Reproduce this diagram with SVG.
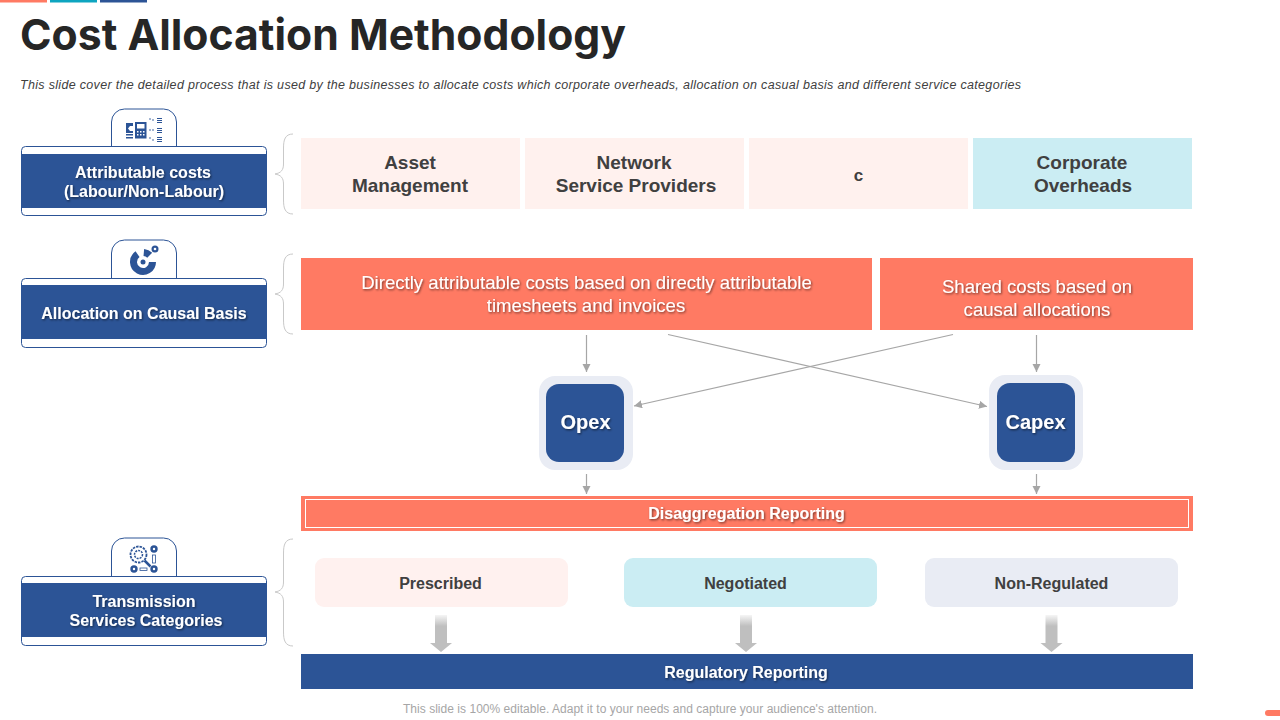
<svg xmlns="http://www.w3.org/2000/svg" width="1280" height="720" viewBox="0 0 1280 720">
<style>
text{font-family:"Liberation Sans",Arial,sans-serif}
.b{font-weight:700;text-anchor:middle}
.w{fill:#fff;filter:url(#ts)}
.d{fill:#404040;font-size:19px}
.m{font-size:16px}
.l{font-size:18.600px;text-anchor:middle}
.tab{fill:#fff;stroke:#2c5496;stroke-width:1}
.card{fill:#fff;stroke:#2c5496;stroke-width:1}
.blue{fill:#2c5496}
.brace{fill:none;stroke:#c9c9c9;stroke-width:1}
.ln{stroke:#a6a6a6;stroke-width:1.200;fill:none;marker-end:url(#ah)}
.ic{fill:#2c5496}
.wh{fill:#fff}
</style>
<defs>
<filter id="ts" x="-10%" y="-30%" width="120%" height="170%"><feDropShadow dx="1" dy="1.200" stdDeviation="0.800" flood-color="#000" flood-opacity="0.550"/></filter>
<marker id="ah" markerUnits="userSpaceOnUse" markerWidth="9" markerHeight="9" refX="8" refY="4" orient="auto"><path d="M0 0L8 4L0 8Z" fill="#a6a6a6"/></marker>
<linearGradient id="ga" x1="0" y1="0" x2="0" y2="1"><stop offset="0" stop-color="#bfbfbf" stop-opacity="0.150"/><stop offset="0.300" stop-color="#bfbfbf"/><stop offset="1" stop-color="#bfbfbf"/></linearGradient>
<path id="fat" d="M-6 0H6V28H11L0 37L-11 28H-6Z" fill="url(#ga)"/>
</defs>
<rect width="1280" height="720" fill="#fff"/>
<g id="decor">
<rect x="0" y="0" width="47" height="2.500" fill="#ff7a63"/>
<rect x="50" y="0" width="47" height="2.500" fill="#0ea5c0"/>
<rect x="100" y="0" width="47" height="2.500" fill="#2c5496"/>
<path d="M1280 710H1268a3 3 0 0 0 0 6H1280Z" fill="#ff7a63"/>
</g>
<g id="title">
<text x="20" y="50" font-size="43" font-weight="700" fill="#262626" style="font-family:Inter,sans-serif" textLength="606" lengthAdjust="spacingAndGlyphs">Cost Allocation Methodology</text>
<text x="20" y="89" font-size="12.500" font-style="italic" fill="#404040" textLength="1001">This slide cover the detailed process that is used by the businesses to allocate costs which corporate overheads, allocation on casual basis and different service categories</text>
</g>
<g id="connectors">
<path class="ln" d="M586.500 335V372"/>
<path class="ln" d="M1036.500 335V372"/>
<path class="ln" d="M668 334.500L987 406.500"/>
<path class="ln" d="M953 334.500L634 406"/>
<path class="ln" d="M586.500 474V494"/>
<path class="ln" d="M1036.500 474V494"/>
<use href="#fat" x="441" y="615"/>
<use href="#fat" x="746" y="615"/>
<use href="#fat" x="1051.500" y="615"/>
</g>
<g id="node-attributable">
<path class="tab" d="M111.500 147V122a13 13 0 0 1 13-13H163.500a13 13 0 0 1 13 13V147Z"/>
<rect class="card" x="21.500" y="146.500" width="245" height="69" rx="4"/>
<rect class="blue" x="21" y="154" width="246" height="54"/>
<g class="ic">
<path d="M126 123h7v3h-3l-2 2.500 2 2.500h3v2h-7Z"/>
<rect x="126" y="134" width="7" height="1.500"/><rect x="126" y="137" width="7" height="1.500"/>
<path d="M135 122h11.500v16.500h-11.500Zm2 2v4.500h7.500v-4.500Zm0 7v1.500h1.500v-1.500Zm3 0v1.500h1.500v-1.500Zm3 0v1.500h1.500v-1.500Zm-6 3v1.500h1.500v-1.500Zm3 0v1.500h1.500v-1.500Zm3 0v1.500h1.500v-1.500Z" fill-rule="evenodd"/>
<rect x="157" y="118" width="5" height="1"/><rect x="157" y="120" width="5" height="1"/><rect x="157" y="122" width="5" height="1"/>
<rect x="157" y="128" width="5" height="1"/><rect x="157" y="130" width="5" height="1"/><rect x="157" y="132" width="5" height="1"/>
<rect x="157" y="137" width="5" height="1"/><rect x="157" y="139" width="5" height="1"/><rect x="157" y="141" width="5" height="1"/>
<circle cx="150" cy="119" r="0.800"/><circle cx="153" cy="120" r="0.800"/><circle cx="150" cy="130" r="0.800"/><circle cx="153" cy="130" r="0.800"/><circle cx="150" cy="138" r="0.800"/><circle cx="153" cy="140" r="0.800"/>
</g>
<text class="b w m"><tspan x="143" y="178">Attributable costs</tspan><tspan x="144" y="197">(Labour/Non-Labour)</tspan></text>
</g>
<g id="node-causal">
<path class="tab" d="M111.500 279V253a13 13 0 0 1 13-13H163.500a13 13 0 0 1 13 13V279Z"/>
<rect class="card" x="21.500" y="278.500" width="245" height="69" rx="4"/>
<rect class="blue" x="21" y="285" width="246" height="54"/>
<g class="ic">
<path d="M137.550 254.220A9.500 9.500 0 1 0 152.500 262" fill="none" stroke="#2c5496" stroke-width="7"/>
<path d="M143.830 252.540A9.500 9.500 0 0 1 149.720 255.280" fill="none" stroke="#2c5496" stroke-width="7"/>
<circle cx="143" cy="262" r="2.500"/>
<circle cx="155" cy="249" r="3.500"/>
<circle class="wh" cx="155" cy="249" r="1.300"/>
</g>
<text class="b w m" x="144" y="318.500">Allocation on Causal Basis</text>
</g>
<g id="node-transmission">
<path class="tab" d="M111.500 577V551a13 13 0 0 1 13-13H163.500a13 13 0 0 1 13 13V577Z"/>
<rect class="card" x="21.500" y="576.500" width="245" height="69" rx="4"/>
<rect class="blue" x="21" y="583" width="246" height="54"/>
<g class="ic">
<circle cx="138.500" cy="554.500" r="8" fill="none" stroke="#2c5496" stroke-width="1.800" stroke-dasharray="2.500 1"/>
<circle cx="138.500" cy="554.500" r="4" fill="none" stroke="#2c5496" stroke-width="1.500" stroke-dasharray="2 1"/>
<path d="M144.500 560.500L150.500 566.500" stroke="#2c5496" stroke-width="2.500"/>
<circle cx="154" cy="549" r="3.700"/><circle class="wh" cx="154" cy="549" r="1.200"/>
<circle cx="154" cy="569" r="3.700"/><circle class="wh" cx="154" cy="569" r="1.200"/>
<circle cx="134" cy="569" r="3.700"/><circle class="wh" cx="134" cy="569" r="1.200"/>
<rect x="152.500" y="555" width="3" height="8" fill="none" stroke="#2c5496" stroke-width="0.800"/>
<rect x="140" y="568" width="7" height="2.500" fill="none" stroke="#2c5496" stroke-width="0.800"/>
</g>
<text class="b w m"><tspan x="144" y="607">Transmission</tspan><tspan x="146" y="626">Services Categories</tspan></text>
</g>
<g id="braces">
<path class="brace" d="M293 134C285 134 283.500 140 283.500 148V164C283.500 170 281 173 275 174C281 175 283.500 178 283.500 184V200C283.500 208 285 214 293 214"/>
<path class="brace" d="M293 254C285 254 283.500 260 283.500 268V284C283.500 290 281 293 275 294C281 295 283.500 298 283.500 304V320C283.500 328 285 334 293 334"/>
<path class="brace" d="M293 539C285 539 283.500 545 283.500 553V582C283.500 588 281 591 275 592C281 593 283.500 596 283.500 602V632C283.500 640 285 646 293 646"/>
</g>
<g id="node-asset"><rect x="301" y="138" width="219" height="71" fill="#fff1ee"/><text class="b d"><tspan x="410" y="169">Asset</tspan><tspan x="410" y="192">Management</tspan></text></g>
<g id="node-network"><rect x="525" y="138" width="219" height="71" fill="#fff1ee"/><text class="b d"><tspan x="634" y="169">Network</tspan><tspan x="636" y="192">Service Providers</tspan></text></g>
<g id="node-c"><rect x="749" y="138" width="219" height="71" fill="#fff1ee"/><text class="b d" style="font-size:17px" x="858.500" y="181">c</text></g>
<g id="node-corporate"><rect x="973" y="138" width="219" height="71" fill="#cbedf3"/><text class="b d"><tspan x="1082" y="169">Corporate</tspan><tspan x="1083" y="192">Overheads</tspan></text></g>
<g id="node-direct"><rect x="301" y="258" width="571" height="72" fill="#ff7a63"/><text class="w l"><tspan x="586.500" y="289">Directly attributable costs based on directly attributable</tspan><tspan x="586" y="312">timesheets and invoices</tspan></text></g>
<g id="node-shared"><rect x="880" y="258" width="313" height="72" fill="#ff7a63"/><text class="w l"><tspan x="1037" y="293">Shared costs based on</tspan><tspan x="1037" y="316">causal allocations</tspan></text></g>
<g id="node-opex"><rect x="539" y="376" width="94" height="94" rx="16" fill="#e9ecf4"/><rect x="546" y="384" width="78" height="78" rx="13" fill="#2c5496"/><text class="b w" font-size="20" x="585.500" y="429">Opex</text></g>
<g id="node-capex"><rect x="989" y="375" width="94" height="95" rx="16" fill="#e9ecf4"/><rect x="997" y="383" width="78" height="79" rx="13" fill="#2c5496"/><text class="b w" font-size="20" x="1035.500" y="429">Capex</text></g>
<g id="node-disaggregation"><rect x="301" y="496" width="892" height="35" fill="#ff7a63"/><rect x="305.500" y="499.500" width="883" height="28" fill="none" stroke="#fff" stroke-width="1"/><text class="b w m" x="746.500" y="519">Disaggregation Reporting</text></g>
<g id="node-prescribed"><rect x="315" y="558" width="253" height="49" rx="9" fill="#fff1ef"/><text class="b m" fill="#404040" x="440.500" y="589">Prescribed</text></g>
<g id="node-negotiated"><rect x="624" y="558" width="253" height="49" rx="9" fill="#cbedf3"/><text class="b m" fill="#404040" x="745.500" y="589">Negotiated</text></g>
<g id="node-nonregulated"><rect x="925" y="558" width="253" height="49" rx="9" fill="#e9ecf4"/><text class="b m" fill="#404040" x="1051.500" y="589">Non-Regulated</text></g>
<g id="node-regulatory"><rect x="301" y="654" width="892" height="35" fill="#2c5496"/><text class="b w m" x="746" y="678">Regulatory Reporting</text></g>
<text x="640" y="713" font-size="12" fill="#a6a6a6" text-anchor="middle" textLength="474">This slide is 100% editable. Adapt it to your needs and capture your audience's attention.</text>
</svg>
